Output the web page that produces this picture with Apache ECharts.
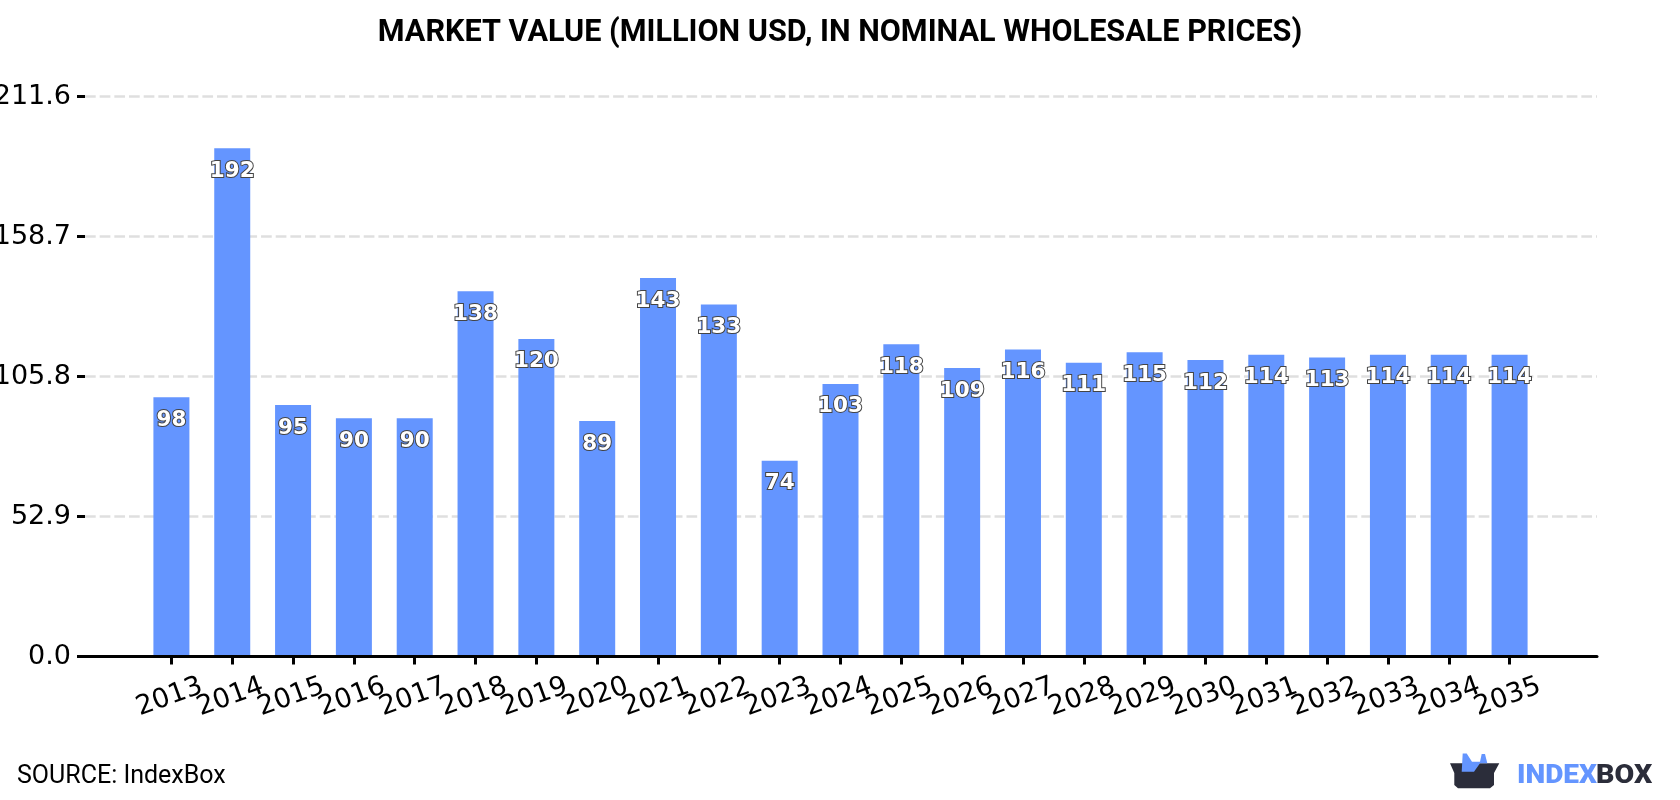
<!DOCTYPE html>
<html>
<head>
<meta charset="utf-8">
<style>html,body{margin:0;padding:0;background:#fff}#chart{width:1680px;height:800px}</style>
<script src="https://cdn.jsdelivr.net/npm/echarts@6/dist/echarts.min.js"></script>
</head>
<body>
<div id="chart"></div>
<script>
const years = ['2013','2014','2015','2016','2017','2018','2019','2020','2021','2022','2023','2024','2025','2026','2027','2028','2029','2030','2031','2032','2033','2034','2035'];
const marketValue = [98,192,95,90,90,138,120,89,143,133,74,103,118,109,116,111,115,112,114,113,114,114,114];
const valueTicks = [0,52.9,105.8,158.7,211.6];
const tickStep = 52.9;
const axisTop = 211.6;
const chartTitle = 'MARKET VALUE (MILLION USD, IN NOMINAL WHOLESALE PRICES)';
const sourceNote = 'SOURCE: IndexBox';

const chart = echarts.init(document.getElementById('chart'), null, {renderer:'canvas'});
const plotTop = 96.5, plotBottom = 800 - 656.5;

chart.setOption({
  animation:false,
  backgroundColor:'#fff',
  title:{
    text:chartTitle, left:'center', top:13,
    textStyle:{fontFamily:'Roboto',fontWeight:'bold',fontSize:30.6,color:'#000'}
  },
  grid:[
    // outer grid carries the value scale, dashed guides and baseline
    {left:85,right:83,top:plotTop,bottom:plotBottom,outerBoundsMode:'none'},
    // inner grid holds the bars, inset from the baseline's ends
    {left:141,right:140,top:plotTop,bottom:plotBottom,outerBoundsMode:'none'}
  ],
  xAxis:[
    {gridIndex:0,type:'category',data:[''],axisTick:{show:false},axisLabel:{show:false},
      axisLine:{show:true,lineStyle:{color:'#000',width:3}},z:5},
    {gridIndex:1,type:'category',data:years,
      axisLine:{show:false},
      axisTick:{show:true,alignWithLabel:true,length:8,lineStyle:{color:'#000',width:3}},
      axisLabel:{interval:0,rotate:20,align:'center',verticalAlign:'middle',margin:40,padding:[0,4,0,0],
        fontFamily:'DejaVu Sans',fontSize:27,color:'#000'}}
  ],
  yAxis:[
    {gridIndex:0,type:'value',min:0,max:axisTop,interval:tickStep,
      axisLine:{show:false},
      axisTick:{show:true,length:8,lineStyle:{color:'#000',width:3}},
      axisLabel:{margin:14,padding:[5,0,0,0],fontFamily:'DejaVu Sans',fontSize:27,color:'#000',
        customValues:valueTicks,formatter:v=>v.toFixed(1)},
      splitLine:{show:true,lineStyle:{color:'#dfdfdf',width:2.5,type:[10.7,3.97]}}},
    {gridIndex:1,type:'value',min:0,max:axisTop,interval:tickStep,show:false,splitLine:{show:false}}
  ],
  series:[{
    type:'bar',xAxisIndex:1,yAxisIndex:1,data:marketValue,barWidth:36,
    itemStyle:{color:'#6495ff'},
    label:{show:true,position:'insideTop',distance:12,
      fontFamily:'DejaVu Sans',fontWeight:'bold',fontSize:21.5,color:'#fff',
      textBorderColor:'#444',textBorderWidth:2}
  }],
  graphic:[
    {type:'text',left:17,top:764,style:{text:sourceNote,fontFamily:'Roboto',fontSize:25,fill:'#000'}},
    // logo: open box with two blue flaps
    {type:'polygon',shape:{points:[[1450,763.3],[1499.3,763.3],[1494,773],[1494,785],[1490,788.3],[1458,788.3],[1454.3,785],[1454.3,773]]},style:{fill:'#2b2d3a'}},
    {type:'polygon',shape:{points:[[1462.7,753.5],[1466.7,753.5],[1472,761.7],[1480,761.7],[1481.7,754],[1485,754],[1487.3,763.3],[1480,763.3],[1474,771.7],[1461.7,771.7]]},style:{fill:'#6495ff'}},
    {type:'text',x:1517,y:763,scaleX:1.08,style:{text:'INDEX',fontFamily:'Roboto',fontWeight:900,fontSize:26,fill:'#6495ff'}},
    {type:'text',x:1596,y:763,scaleX:1.1,style:{text:'BOX',fontFamily:'Roboto',fontWeight:900,fontSize:26,fill:'#2b2d3a'}}
  ]
});
</script>
</body>
</html>
